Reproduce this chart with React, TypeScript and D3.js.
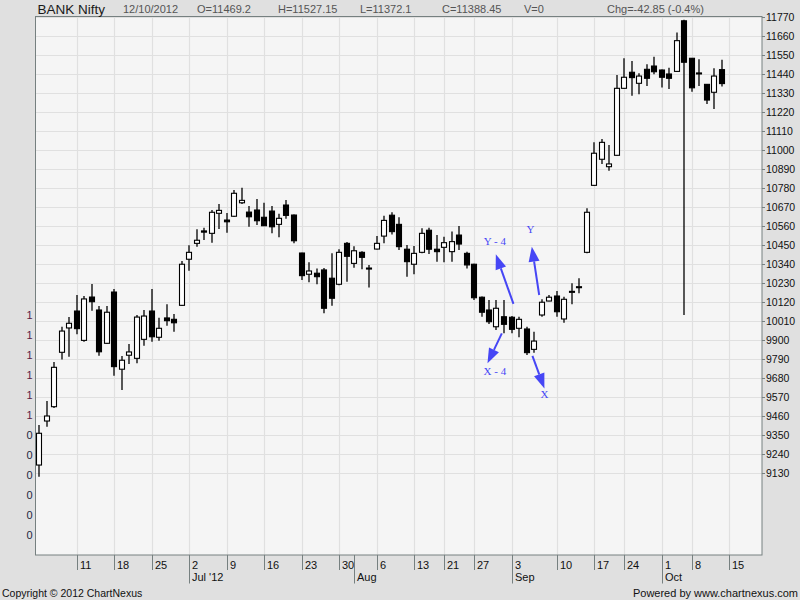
import React from "react";
import * as d3 from "d3";

const opens = [9179,9434,9517,9832,9973,10071,9901,10152,10077,9884,10181,9734,9815,9797,9907,10071,9919,10031,10023,10104,10371,10463,10535,10521,10637,10598,10620,10698,10644,10656,10614,10650,10573,10685,10627,10407,10284,10290,10309,10261,10226,10463,10347,10411,10320,10430,10505,10626,10573,10429,10342,10411,10539,10429,10440,10415,10511,10405,10342,10151,10077,9980,10038,10035,9971,9967,9849,10048,10129,10158,10025,10180,10210,10411,10799,10950,10907,10973,11361,11454,11390,11471,11490,11467,11444,11459,11752,11535,11450,11384,11338,11469.2];
const highs = [9411,9550,9776,9980,10036,10164,10158,10228,10100,10100,10199,9811,9880,10048,10077,10199,10032,10111,10054,10361,10452,10544,10554,10656,10691,10639,10772,10785,10679,10720,10698,10679,10635,10714,10630,10409,10353,10318,10320,10405,10429,10471,10446,10417,10338,10505,10623,10643,10614,10453,10448,10550,10554,10511,10501,10531,10563,10415,10345,10155,10135,10135,10135,10042,10038,9980,9951,10139,10164,10187,10154,10232,10261,10666,11048,11067,11033,11438,11535,11519,11448,11500,11544,11470,11480,11685,11758,11537,11529,11386,11477,11527.15];
const lows = [9111,9401,9510,9791,9806,9936,9893,10073,9812,9880,9696,9614,9764,9768,9870,9893,9899,9986,9951,10100,10305,10444,10483,10467,10546,10525,10615,10691,10559,10569,10563,10521,10498,10606,10463,10251,10237,10226,10058,10102,10220,10241,10322,10313,10208,10428,10463,10515,10424,10270,10284,10405,10401,10357,10353,10357,10424,10318,10135,10038,9996,9961,9942,9942,9919,9816,9830,10038,10128,10038,10003,10110,10174,10405,10795,10923,10884,10970,11358,11318,11326,11374,11442,11365,11357,11455,10048,11341,11374,11270,11241,11372.1];
const closes = [9363,9463,9745,9955,10000,9969,10141,10125,9835,10064,9749,9786,9834,10036,10042,9922,9971,10015,10003,10342,10411,10481,10528,10643,10654,10588,10753,10712,10617,10594,10565,10559,10608,10625,10478,10276,10303,10270,10087,10145,10411,10388,10420,10382,10316,10463,10596,10531,10444,10357,10405,10521,10429,10415,10467,10473,10459,10338,10148,10064,10009,10087,9994,9965,10023,9830,9897,10122,10151,10067,10139,10185,10212,10643,10985,11048,10923,11361,11425,11423,11432,11419,11457,11425,11419,11637,11512,11364,11446,11293,11432,11388.45];

const priceTicks = d3.range(9130, 11771, 110);
const weekTickIdx = [5,10,15,20,25,30,35,40,45,50,54,58,63,69,74,78,83,87,92];
const weekTickLabels = ["11","18","25","2","9","16","23","30","6","13","21","27","3","10","17","24","1","8","15"];
const monthTickIdx = [20,42,63,83];
const monthTickLabels = ["Jul '12","Aug","Sep","Oct"];
const leftLabels = ["1","1","1","1","1","1","0","0","0","0","0","0"];

const annLabels = ["Y - 4","X - 4","Y","X"];
const annLabelIdx = [60.78,60.78,65.53,67.39];
const annLabelVal = [10477,9725,10546,9590];
const arrowFromIdx = [63.26,61.71,66.69,65.79];
const arrowFromVal = [10112,9942,10164,9811];
const arrowToIdx = [60.91,59.8,65.71,67.39];
const arrowToVal = [10400,9768,10444,9623];

const headerTexts = ["12/10/2012","O=11469.2","H=11527.15","L=11372.1","C=11388.45","V=0","Chg=-42.85 (-0.4%)"];
const headerX = [123,197,278,360,442,524,607];

export default function App() {
  const W = 800, H = 600;
  const L = 35.5, R = 762, T = 16.5, B = 555;
  const x = d3.scaleLinear().domain([0, 91]).range([39, 721.5]);
  const y = d3.scaleLinear().domain([9130, 11770]).range([473.5, 17.7]);
  const yl = d3.scalePoint<number>().domain(d3.range(leftLabels.length)).range([315, 535]);
  const crisp = (v: number) => Math.round(v - 0.5) + 0.5;
  const tx = (v: number) => Math.round(v) + 0.5;
  const bw = 5;
  const font = "'Liberation Sans', Arial, sans-serif";
  const blue = "#4646f5";

  return (
    <svg width={W} height={H} style={{ position: "fixed", left: 0, top: 0, display: "block" }}>
      <rect x={0} y={0} width={W} height={H} fill="#e0e0e0" />
      <rect x={L} y={T} width={R - L} height={B - T} fill="#f5f5f5" />
      {priceTicks.map((v) => (
        <line key={"g" + v} x1={L} x2={R} y1={crisp(y(v))} y2={crisp(y(v))} stroke="#e0e0e0" strokeWidth={1.2} />
      ))}
      {weekTickIdx.map((i) => (
        <line key={"vg" + i} x1={tx(x(i))} x2={tx(x(i))} y1={T} y2={B} stroke="#e0e0e0" strokeWidth={1.2} />
      ))}
      {opens.map((o, i) => {
        const c = closes[i];
        const up = c >= o;
        const yt = y(Math.max(o, c));
        const yb = y(Math.min(o, c));
        const cx = Math.round(x(i));
        return (
          <g key={"c" + i}>
            <line x1={cx} x2={cx} y1={y(highs[i])} y2={y(lows[i])} stroke="#000" strokeWidth={1.3} />
            <rect x={cx - bw / 2} y={yt} width={bw} height={Math.max(1, yb - yt)} fill={up ? "#fff" : "#000"} stroke="#000" strokeWidth={1.1} />
          </g>
        );
      })}
      {arrowFromIdx.map((fi, k) => {
        const x1 = x(fi), y1 = y(arrowFromVal[k]);
        const x2 = x(arrowToIdx[k]), y2 = y(arrowToVal[k]);
        const dx = x2 - x1, dy = y2 - y1;
        const len = Math.hypot(dx, dy);
        const ux = dx / len, uy = dy / len;
        const hl = 15, hw = 5.5;
        const bx = x2 - ux * hl, by = y2 - uy * hl;
        const pts = [[x2, y2], [bx - uy * hw, by + ux * hw], [bx + uy * hw, by - ux * hw]];
        return (
          <g key={"a" + k}>
            <line x1={x1} y1={y1} x2={bx} y2={by} stroke={blue} strokeWidth={2} />
            <polygon points={pts.map((p) => p.join(",")).join(" ")} fill={blue} />
          </g>
        );
      })}
      {annLabels.map((t, k) => (
        <text key={"al" + k} x={x(annLabelIdx[k])} y={y(annLabelVal[k])} dy="0.35em" textAnchor="middle"
          fontFamily="'Liberation Serif', 'DejaVu Serif', serif" fontSize={11} fill={blue}>{t}</text>
      ))}
      <rect x={L} y={T} width={R - L} height={B - T} fill="none" stroke="#768080" strokeWidth={1} />
      {priceTicks.map((v) => (
        <g key={"rt" + v}>
          <line x1={R} x2={R + 3} y1={crisp(y(v))} y2={crisp(y(v))} stroke="#768080" />
          <text x={766} y={y(v)} dy="0.35em" fontFamily={font} fontSize={10.5} fill="#111">{v}</text>
        </g>
      ))}
      {leftLabels.map((t, k) => (
        <text key={"ll" + k} x={32.5} y={yl(k)} dy="0.35em" textAnchor="end" fontFamily={font} fontSize={11}
          fill={t === "1" ? "#5a1a46" : "#1c2440"}>{t}</text>
      ))}
      {weekTickIdx.map((i, k) => (
        <g key={"wt" + i}>
          <line x1={tx(x(i))} x2={tx(x(i))} y1={B} y2={570} stroke="#768080" />
          <text x={tx(x(i)) + 2.5} y={565} dy="0.35em" fontFamily={font} fontSize={11} fill="#111">{weekTickLabels[k]}</text>
        </g>
      ))}
      {monthTickIdx.map((i, k) => (
        <g key={"mt" + i}>
          <line x1={tx(x(i))} x2={tx(x(i))} y1={B} y2={583.5} stroke="#768080" />
          <text x={tx(x(i)) + 2.5} y={577.5} dy="0.35em" fontFamily={font} fontSize={11} fill="#111">{monthTickLabels[k]}</text>
        </g>
      ))}
      <text x={37.5} y={13.5} fontFamily={font} fontSize={13.5} fill="#1a1a1a">BANK Nifty</text>
      {headerTexts.map((t, k) => (
        <text key={"h" + k} x={headerX[k]} y={12.5} fontFamily={font} fontSize={11} fill="#555">{t}</text>
      ))}
      <text x={2} y={597} fontFamily={font} fontSize={10.5} fill="#111">Copyright © 2012 ChartNexus</text>
      <text x={798} y={597} textAnchor="end" fontFamily={font} fontSize={11} fill="#111">Powered by www.chartnexus.com</text>
    </svg>
  );
}
